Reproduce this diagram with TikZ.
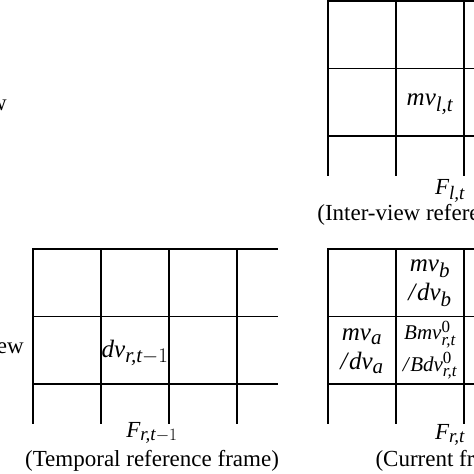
\documentclass[tikz,border=0pt]{standalone}
\usepackage{amsmath}
\usepackage{fontspec}
\setmainfont{Liberation Serif}
\usepackage{tikz}
\usetikzlibrary{positioning}
\DeclareMathSizes{25}{25}{21}{17}
\DeclareMathSizes{23}{23}{19}{15}
\DeclareMathSizes{21}{21}{17}{14}
\newcommand{\iv}[1]{\textit{#1}}
\tikzset{
  gridline/.style={line width=1.6pt,line cap=rect},
  cell/.style={inner sep=0pt,align=center,font=\fontsize{25}{29}\selectfont},
  smallcell/.style={inner sep=0pt,align=center,font=\fontsize{21}{32}\selectfont},
  framename/.style={inner sep=0pt,font=\fontsize{23}{26}\selectfont},
  caption/.style={inner sep=0pt,font=\fontsize{23}{26}\selectfont},
  viewname/.style={inner sep=0pt,anchor=east,font=\fontsize{23}{26}\selectfont}
}

\begin{document}
\begin{tikzpicture}[x=1pt,y=-1pt]
  \useasboundingbox (0,0) rectangle (474,474);
  % view names, cut by the frame edge
  \node[viewname] (lview) at (7,103) {view};
  \node[viewname] (rview) at (24,346) {view};
  % inter-view reference frame
  \begin{scope}[shift={(328,1)}]
    \foreach \i in {0,...,3} \draw[gridline] (\i*68,0) -- (\i*68,174);
    \foreach \j in {0,1,2} \draw[gridline] (0,\j*67.5) -- (244,\j*67.5);
    \node[cell] (mvl) at (102,103) {$\iv{mv}_{\iv{l,t}}$};
    \node[framename] (Flt) at (122,190) {$\iv{F}_{\iv{l,t}}$};
    \node[caption] (capl) at (120,214) {(Inter-view reference frame)};
  \end{scope}
  % temporal reference frame
  \begin{scope}[shift={(33,249)}]
    \foreach \i in {0,...,3} \draw[gridline] (\i*68,0) -- (\i*68,174);
    \foreach \j in {0,1,2} \draw[gridline] (0,\j*67.5) -- (244,\j*67.5);
    \node[cell] (dvr) at (102,104) {$\iv{dv}_{\iv{r,t}{-}1}$};
    \node[framename] (Frt1) at (119,184) {$\iv{F}_{\iv{r,t}{-}1}$};
    \node[caption] (capt) at (119,212) {(Temporal reference frame)};
  \end{scope}
  % current frame
  \begin{scope}[shift={(328,249)}]
    \foreach \i in {0,...,3} \draw[gridline] (\i*68,0) -- (\i*68,174);
    \foreach \j in {0,1,2} \draw[gridline] (0,\j*67.5) -- (244,\j*67.5);
    \node[cell] (nb) at (102,34) {$\iv{mv}_{\iv{b}}$\\\iv{/}$\iv{dv}_{\iv{b}}$};
    \node[cell] (na) at (34,102) {$\iv{mv}_{\iv{a}}$\\\iv{/}$\iv{dv}_{\iv{a}}$};
    \node[smallcell] (nc) at (102,101) {$\iv{Bmv}^{\textrm{0}}_{\iv{r,t}}$\\\iv{/}$\iv{Bdv}^{\textrm{0}}_{\iv{r,t}}$};
    \node[framename] (Frt) at (122,186) {$\iv{F}_{\iv{r,t}}$};
    \node[caption] (capc) at (120,212) {(Current frame)};
  \end{scope}
\end{tikzpicture}
\end{document}
